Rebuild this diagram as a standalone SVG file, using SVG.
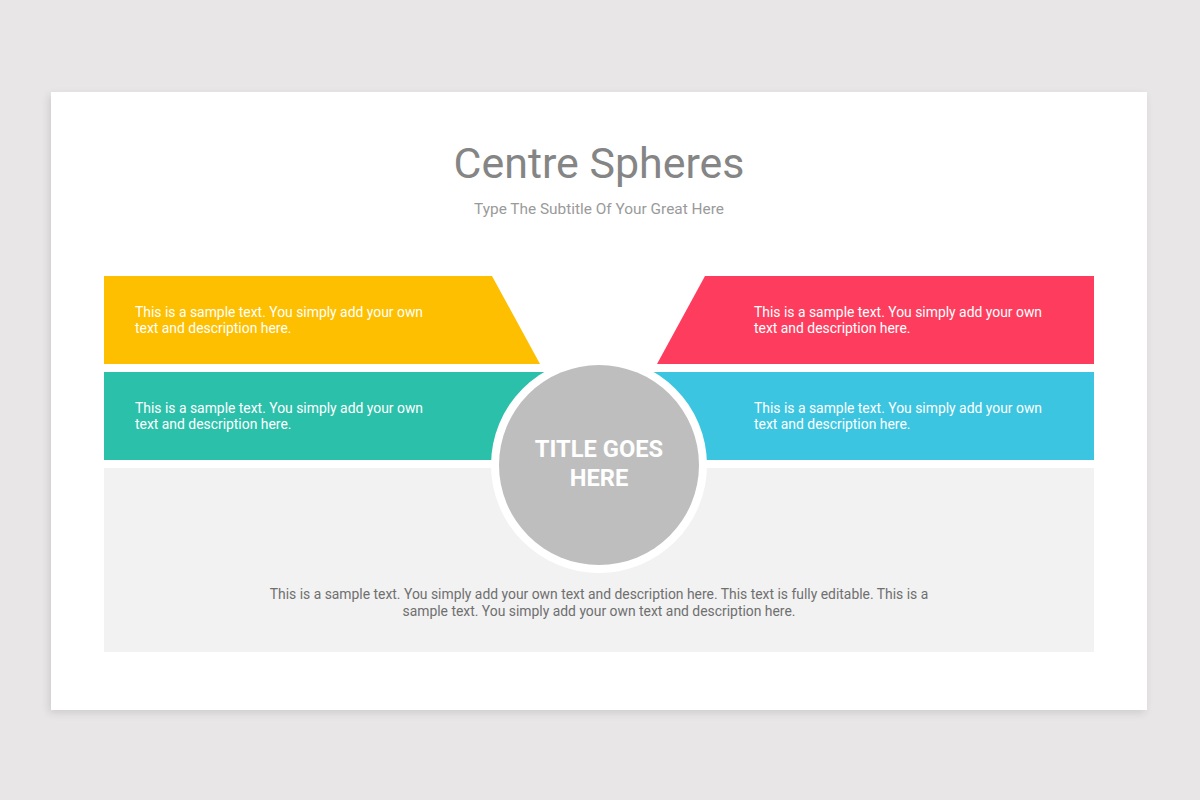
<svg xmlns="http://www.w3.org/2000/svg" width="1200" height="800" viewBox="0 0 1200 800">
<defs>
<filter id="sh" x="-5%" y="-5%" width="110%" height="115%">
<feGaussianBlur in="SourceAlpha" stdDeviation="4"/>
<feOffset dx="-2" dy="3"/>
<feComponentTransfer><feFuncA type="linear" slope="0.12"/></feComponentTransfer>
<feMerge><feMergeNode/><feMergeNode in="SourceGraphic"/></feMerge>
</filter>
<style>
.t{font-family:Roboto,"Liberation Sans",sans-serif}
.box{font-size:13.9px;fill:#ffffff}
.body{font-size:13.9px;fill:#6f6f6f}
</style>
</defs>
<rect width="1200" height="800" fill="#e8e6e7"/>
<rect x="51" y="92" width="1096" height="618" fill="#ffffff" filter="url(#sh)"/>
<g id="title">
<text class="t" x="599" y="178" text-anchor="middle" font-size="42.9" fill="#858585">Centre Spheres</text>
<text class="t" x="599" y="214" text-anchor="middle" font-size="15.4" fill="#9a9a9a">Type The Subtitle Of Your Great Here</text>
</g>
<g id="bottom-panel">
<rect x="104" y="468" width="990" height="184" fill="#f2f2f2"/>
<text class="t body" x="599" y="599" text-anchor="middle">This is a sample text. You simply add your own text and description here. This text is fully editable. This is a</text>
<text class="t body" x="599" y="616" text-anchor="middle">sample text. You simply add your own text and description here.</text>
</g>
<g id="yellow">
<polygon points="104,276 492,276 540,364 104,364" fill="#fdbf00"/>
<text class="t box" x="135" y="317">This is a sample text. You simply add your own</text>
<text class="t box" x="135" y="333">text and description here.</text>
</g>
<g id="red">
<polygon points="705,276 1094,276 1094,364 657,364" fill="#fe3d5e"/>
<text class="t box" x="754" y="317">This is a sample text. You simply add your own</text>
<text class="t box" x="754" y="333">text and description here.</text>
</g>
<g id="teal">
<rect x="104" y="372" width="450" height="88" fill="#2bc0aa"/>
<text class="t box" x="135" y="413">This is a sample text. You simply add your own</text>
<text class="t box" x="135" y="429">text and description here.</text>
</g>
<g id="blue">
<rect x="644" y="372" width="450" height="88" fill="#3bc5e1"/>
<text class="t box" x="754" y="413">This is a sample text. You simply add your own</text>
<text class="t box" x="754" y="429">text and description here.</text>
</g>
<g id="centre">
<circle cx="599" cy="465" r="108" fill="#ffffff"/>
<circle cx="599" cy="465" r="100" fill="#bebebe"/>
<text class="t" x="599" y="457" text-anchor="middle" font-size="23.7" font-weight="bold" fill="#ffffff">TITLE GOES</text>
<text class="t" x="599" y="486" text-anchor="middle" font-size="23.7" font-weight="bold" fill="#ffffff">HERE</text>
</g>
<g id="connectors"/>
</svg>
